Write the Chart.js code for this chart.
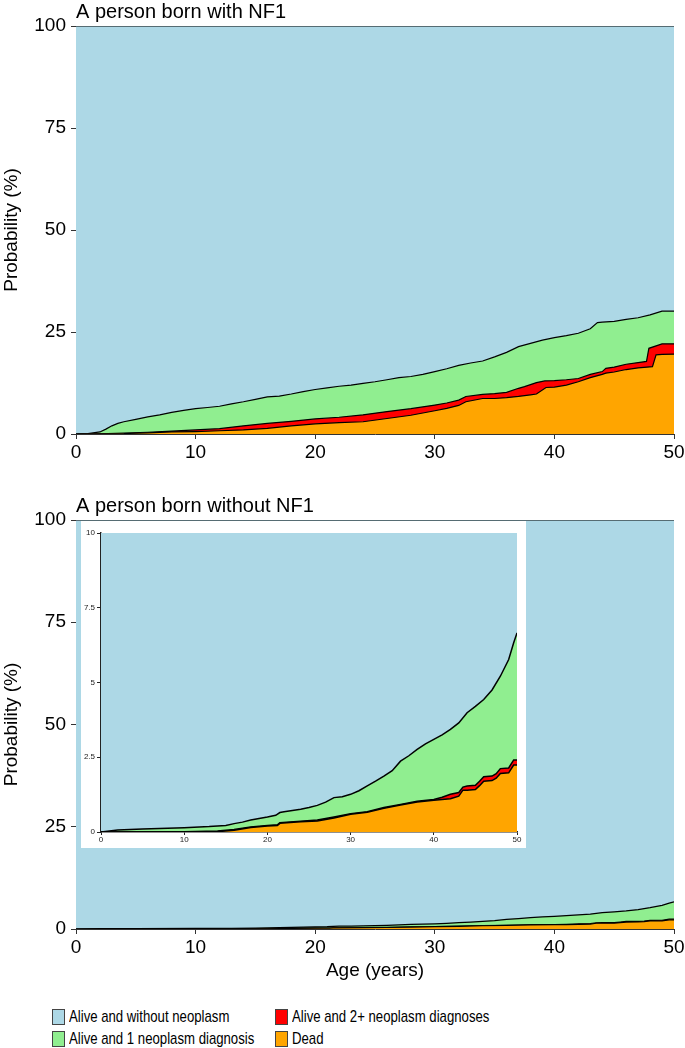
<!DOCTYPE html>
<html>
<head>
<meta charset="utf-8">
<script src="https://cdn.jsdelivr.net/npm/chart.js@4.4.1/dist/chart.umd.min.js"></script>
<style>
  html, body { margin: 0; padding: 0; background: #fff; }
  body { width: 685px; height: 1048px; position: relative; overflow: hidden; font-family: "Liberation Sans", Arial, sans-serif; }
  canvas { position: absolute; display: block; }
  #c1 { left: 0; top: 0; }
  #c2 { left: 0; top: 470px; }
  #c3 { left: 81px; top: 521px; background: #fff; }
  .lg { position: absolute; font-family: "Liberation Sans", Arial, sans-serif; font-size: 17px; color: #000; line-height: 20px; white-space: nowrap; transform: scaleX(0.775); transform-origin: 0 50%; }
  .bx { position: absolute; width: 11px; height: 14px; border: 1px solid #444; }
</style>
</head>
<body>
<canvas id="c1" width="685" height="470"></canvas>
<canvas id="c2" width="685" height="520"></canvas>
<canvas id="c3" width="445" height="327"></canvas>

<div class="bx" style="left:52px;top:1009px;background:#ADD8E6"></div>
<div class="lg" style="left:69px;top:1007px">Alive and without neoplasm</div>
<div class="bx" style="left:52px;top:1031px;background:#90EE90"></div>
<div class="lg" style="left:69px;top:1029px">Alive and 1 neoplasm diagnosis</div>
<div class="bx" style="left:275px;top:1009px;background:#FF0000"></div>
<div class="lg" style="left:292px;top:1007px">Alive and 2+ neoplasm diagnoses</div>
<div class="bx" style="left:275px;top:1031px;background:#FFA500"></div>
<div class="lg" style="left:292px;top:1029px">Dead</div>

<script>
// ---------- DATA (cumulative boundaries, % of people) ----------
// Person born with NF1
const nf1AnyAges = [0,1,2,2.5,3,3.5,4,5,6,7,8,9,10,11,12,13,14,15,16,17,18,19,20,21,22,23,24,25,26,27,28,29,30,31,32,33,34,35,36,37,38,39,40,41,42,43,43.6,44,45,46,47,48,49,50];
const nf1Any     = [0,0.1,0.5,1.2,2.0,2.6,3.0,3.6,4.2,4.7,5.3,5.8,6.2,6.5,6.8,7.4,7.9,8.5,9.1,9.3,9.8,10.4,10.9,11.3,11.7,12.0,12.4,12.8,13.3,13.8,14.1,14.6,15.3,16.0,16.8,17.4,17.9,18.9,20.0,21.4,22.2,23.0,23.6,24.1,24.7,25.8,27.3,27.4,27.6,28.1,28.5,29.2,30.1,30.1];

const nf1DeadOr2Ages = [0,2,4,6,8,10,12,14,16,18,20,22,24,26,28,30,31,32,32.6,34,35,36,37,37.5,38.5,39.2,40,41,42,43,44,44.3,45,46,47,47.7,47.9,49,50];
const nf1DeadOr2     = [0,0.05,0.2,0.4,0.7,1.0,1.3,2.0,2.6,3.1,3.7,4.1,4.7,5.5,6.2,7.1,7.6,8.3,9.2,9.7,9.9,10.2,11.2,11.6,12.6,13.0,13.1,13.3,13.6,14.6,15.3,16.1,16.4,17.1,17.5,17.8,21.0,22.1,22.1];

const nf1DeadAges = [0,4,6,8,10,12,14,16,18,20,22,24,26,28,30,31,32,32.6,34,35,36,37,38,38.5,39.3,40,41,42,43,44,44.3,45,46,47,48.2,48.5,49,50];
const nf1Dead     = [0,0.1,0.3,0.5,0.6,0.8,1.0,1.4,2.0,2.5,2.8,3.0,3.8,4.6,5.7,6.3,7.0,7.9,8.7,8.7,8.9,9.2,9.6,9.8,11.4,11.5,12.0,12.8,13.8,14.6,14.9,15.2,15.8,16.2,16.5,19.4,19.5,19.6];

// Person born without NF1
const ctrlAnyAges = [0,2,5,10,13,15,16,17,18,19,20,21,21.5,22,23,24,25,26,27,28,29,30,31,32,33,34,35,36,37,38,39,40,41,42,43,44,45,46,47,48,49,49.6,50];
const ctrlAny     = [0,0.07,0.1,0.14,0.18,0.22,0.28,0.33,0.4,0.45,0.5,0.56,0.65,0.68,0.72,0.76,0.82,0.89,1.0,1.15,1.18,1.26,1.38,1.54,1.7,1.87,2.05,2.37,2.55,2.76,2.95,3.1,3.25,3.43,3.65,3.99,4.2,4.43,4.75,5.21,5.77,6.33,6.66];

const ctrlLowAges = [0,10,14,16,18,20,21.2,21.5,24,26,28,30,32,34,36,38,40,41,42,43,43.5,44,45,45.5,46,47,47.5,48,49,49.6,50];
const ctrlDeadOr2 = [0,0.01,0.03,0.08,0.17,0.22,0.24,0.31,0.36,0.40,0.50,0.61,0.68,0.82,0.92,1.03,1.09,1.16,1.26,1.32,1.50,1.54,1.56,1.70,1.85,1.87,1.95,2.12,2.14,2.41,2.41];
const ctrlDead    = [0,0.005,0.01,0.06,0.15,0.2,0.22,0.29,0.34,0.37,0.47,0.59,0.66,0.79,0.90,1.0,1.06,1.09,1.11,1.2,1.40,1.40,1.42,1.55,1.70,1.72,1.80,1.96,1.98,2.24,2.24];

const fullAges = [0,50];
const fullPct  = [100,100];

const xTicks = [0,10,20,30,40,50];
const yTicksMain = [0,25,50,75,100];
const yTicksInset = [0,2.5,5,7.5,10];

const stateLabels = ['Dead','Alive and 2+ neoplasm diagnoses','Alive and 1 neoplasm diagnosis','Alive and without neoplasm'];
const stateColors = ['#FFA500','#FF0000','#90EE90','#ADD8E6'];

// ---------- helpers ----------
const FONT = '"Liberation Sans", Arial, Helvetica, sans-serif';
Chart.defaults.font.family = FONT;
Chart.defaults.color = '#000';

function pts(ages, vals) { return ages.map((a, i) => ({ x: a, y: vals[i] })); }

function makeDatasets(series, lw, topBorder) {
  return series.map((s, i) => ({
    label: stateLabels[i],
    data: pts(s[0], s[1]),
    backgroundColor: stateColors[i],
    borderColor: '#000',
    borderWidth: (i === 3 && !topBorder) ? 0 : lw,
    fill: 'origin',
    pointRadius: 0,
    tension: 0
  }));
}

function mainOptions(title, yTitle, xTitle, padTop, xHeight) {
  return {
    responsive: false,
    animation: false,
    events: [],
    layout: { padding: { top: padTop, right: 11, left: 0, bottom: 0 } },
    plugins: {
      legend: { display: false },
      tooltip: { enabled: false },
      title: {
        display: true, text: title, align: 'start', fullSize: false,
        font: { size: 20, family: FONT, weight: 'normal' }, color: '#000',
        padding: { top: 0, bottom: 2 }
      }
    },
    scales: {
      x: {
        type: 'linear', min: 0, max: 50,
        afterBuildTicks: s => { s.ticks = xTicks.map(v => ({ value: v })); },
        afterFit: s => { s.height = xHeight; s.paddingRight = 0; s.paddingLeft = 0; },
        grid: { drawOnChartArea: false, drawTicks: true, tickLength: 5, color: '#333' },
        border: { color: '#333', width: 1 },
        ticks: { font: { size: 19, family: FONT }, color: '#000', padding: 2, maxRotation: 0 },
        title: xTitle ? { display: true, text: xTitle, font: { size: 19, family: FONT }, color: '#000', padding: { top: 0, bottom: 8 } } : { display: false }
      },
      y: {
        type: 'linear', min: 0, max: 100,
        afterBuildTicks: s => { s.ticks = yTicksMain.map(v => ({ value: v })); },
        afterFit: s => { s.width = 76; },
        grid: { drawOnChartArea: false, drawTicks: true, tickLength: 5, color: '#333' },
        border: { color: '#333', width: 1 },
        ticks: { font: { size: 19, family: FONT }, color: '#000', padding: 5 },
        title: { display: true, text: yTitle, font: { size: 19, family: FONT }, color: '#000', padding: { top: 0, bottom: 0 } }
      }
    }
  };
}

// ---------- chart 1 : with NF1 ----------
new Chart(document.getElementById('c1'), {
  type: 'line',
  data: { datasets: makeDatasets([
    [nf1DeadAges, nf1Dead],
    [nf1DeadOr2Ages, nf1DeadOr2],
    [nf1AnyAges, nf1Any],
    [fullAges, fullPct]
  ], 1.2, true) },
  options: mainOptions('A person born with NF1', 'Probability (%)', null, 0, 36)
});

// ---------- chart 2 : without NF1 ----------
new Chart(document.getElementById('c2'), {
  type: 'line',
  data: { datasets: makeDatasets([
    [ctrlLowAges, ctrlDead],
    [ctrlLowAges, ctrlDeadOr2],
    [ctrlAnyAges, ctrlAny],
    [fullAges, fullPct]
  ], 1.2, true) },
  options: mainOptions('A person born without NF1', 'Probability (%)', 'Age (years)', 24, 61)
});

// ---------- chart 3 : inset (0-10 %) ----------
new Chart(document.getElementById('c3'), {
  type: 'line',
  data: { datasets: makeDatasets([
    [ctrlLowAges, ctrlDead],
    [ctrlLowAges, ctrlDeadOr2],
    [ctrlAnyAges, ctrlAny],
    [fullAges, fullPct]
  ], 1.5, false) },
  options: {
    responsive: false,
    animation: false,
    events: [],
    layout: { padding: { top: 12, right: 9, left: 0, bottom: 0 } },
    plugins: { legend: { display: false }, tooltip: { enabled: false }, title: { display: false } },
    scales: {
      x: {
        type: 'linear', min: 0, max: 50,
        afterBuildTicks: s => { s.ticks = xTicks.map(v => ({ value: v })); },
        afterFit: s => { s.height = 16; s.paddingRight = 0; s.paddingLeft = 0; },
        grid: { drawOnChartArea: false, drawTicks: true, tickLength: 3, color: '#222' },
        border: { color: '#222', width: 1.5 },
        ticks: { font: { size: 8, family: FONT }, color: '#222', padding: 0, maxRotation: 0 }
      },
      y: {
        type: 'linear', min: 0, max: 10,
        afterBuildTicks: s => { s.ticks = yTicksInset.map(v => ({ value: v })); },
        afterFit: s => { s.width = 20; },
        grid: { drawOnChartArea: false, drawTicks: true, tickLength: 4, color: '#222' },
        border: { color: '#222', width: 1.5 },
        ticks: { font: { size: 8, family: FONT }, color: '#222', padding: 2 }
      }
    }
  }
});
</script>
</body>
</html>
